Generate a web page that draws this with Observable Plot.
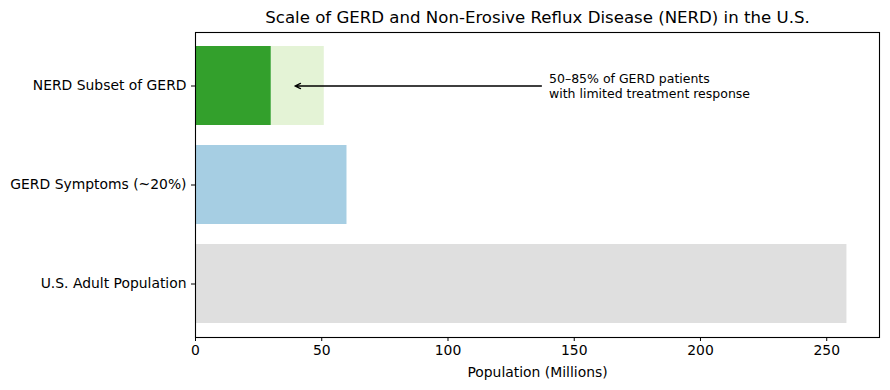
<!DOCTYPE html>
<html>
<head>
<meta charset="utf-8">
<script src="https://cdn.jsdelivr.net/npm/d3@7"></script>
<script src="https://cdn.jsdelivr.net/npm/@observablehq/plot@0.6"></script>
<style>
  html, body { margin: 0; padding: 0; background: #fff; }
  body { width: 890px; height: 390px; overflow: hidden; font-family: "DejaVu Sans", sans-serif; }
  #title { height: 27px; box-sizing: border-box; padding-top: 8px; line-height: 20px;
           margin-left: 195px; width: 685px; text-align: center; font-size: 16.6px; color: #000; }
</style>
</head>
<body>
<div id="title">Scale of GERD and Non-Erosive Reflux Disease (NERD) in the U.S.</div>
<div id="chart"></div>
<script>
// Categories (top to bottom in the chart)
const categories = ["NERD Subset of GERD", "GERD Symptoms (~20%)", "U.S. Adult Population"];
// Population values in millions
const usAdults = 258;
const gerdSymptoms = 60;
const nerdLow = 30;   // 50% of GERD
const nerdHigh = 51;  // 85% of GERD
const xTicks = [0, 50, 100, 150, 200, 250];
const annotationText = "50–85% of GERD patients\nwith limited treatment response";
const annotationX = 140;
const arrowTipX = 39.4;
const arrowTailX = 137;

const bars = [
  {label: categories[2], x1: 0, x2: usAdults, fill: "#dfdfdf"},
  {label: categories[1], x1: 0, x2: gerdSymptoms, fill: "#a6cee3"},
  {label: categories[0], x1: nerdLow, x2: nerdHigh, fill: "#e4f3d6"},
  {label: categories[0], x1: 0, x2: nerdLow, fill: "#33a02c"}
];

const xMax = d3.max(bars, d => d.x2) * 1.05;

const chart = Plot.plot({
  width: 890,
  height: 363,
  marginTop: 5,
  marginBottom: 53,
  marginLeft: 195,
  marginRight: 11,
  style: {fontFamily: "DejaVu Sans, sans-serif", fontSize: "13.9px", color: "#000", background: "#fff"},
  x: {domain: [0, xMax], ticks: xTicks, tickSize: 4, tickPadding: 4, label: "Population (Millions)", labelArrow: "none", labelAnchor: "center", labelOffset: 39},
  y: {domain: categories, paddingInner: 0.2, paddingOuter: 0.14, tickSize: 4, tickPadding: 5, label: null},
  marks: [
    Plot.barX(bars, {y: "label", x1: "x1", x2: "x2", fill: "fill"}),
    Plot.arrow([{y: categories[0]}], {x1: arrowTailX, x2: arrowTipX, y: "y", stroke: "#000", strokeWidth: 1.3, headLength: 7, headAngle: 50}),
    Plot.text([{y: categories[0]}], {x: annotationX, y: "y", text: () => annotationText, textAnchor: "start", fontSize: 12.5, lineHeight: 1.2, fill: "#000"}),
    Plot.frame({stroke: "#000", strokeWidth: 1.1})
  ]
});
document.getElementById("chart").appendChild(chart);
</script>
</body>
</html>
